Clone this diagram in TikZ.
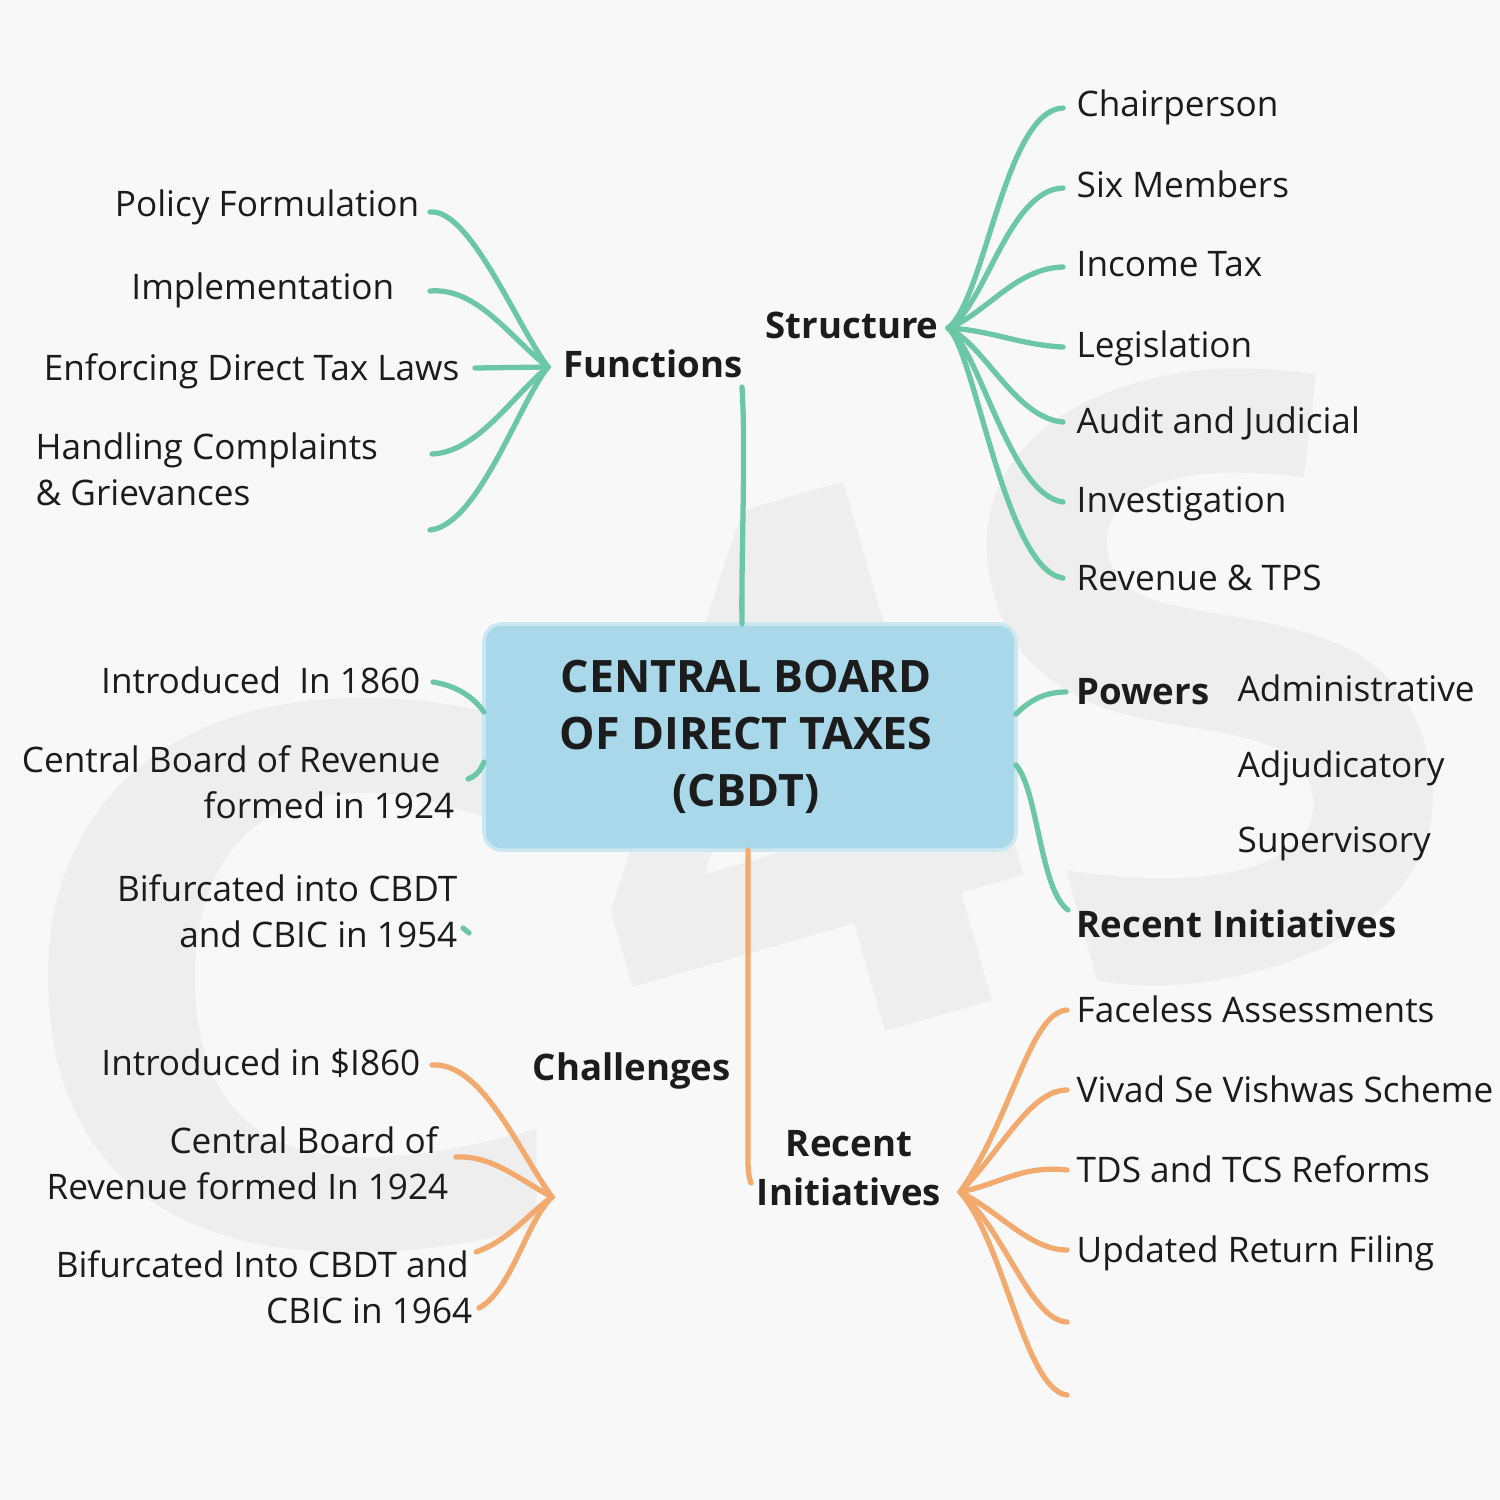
\documentclass[tikz,border=0pt]{standalone}
\usepackage{fontspec}
\setmainfont{Open Sans}
\usetikzlibrary{calc}
\definecolor{bgc}{HTML}{F8F8F8}
\definecolor{wmc}{HTML}{EEEEEE}
\definecolor{grn}{HTML}{6CC7A6}
\definecolor{org}{HTML}{F2AA6E}
\definecolor{boxc}{HTML}{A8D8EA}
\definecolor{ink}{HTML}{1C1C1C}
\tikzset{
  txt/.style={font=\fontsize{10}{13}\selectfont, text=ink, inner sep=0pt},
  lbl/.style={font=\fontsize{10.4}{14}\selectfont\bfseries, text=ink, inner sep=0pt},
  gl/.style={draw=grn, line width=1.5pt, line cap=round},
  ol/.style={draw=org, line width=1.5pt, line cap=round},
  wm/.style={text=wmc, inner sep=0pt, font=\fontsize{215}{215}\selectfont\bfseries}
}
\begin{document}
\begin{tikzpicture}[x=0.01cm, y=-0.01cm]
\fill[bgc] (0,0) rectangle (1500,1500);
\useasboundingbox (0,0) rectangle (1500,1500);
% watermark
\node[wm, xscale=1.25] (wmC) at (295,975) {C};
\node[wm, rotate=16] (wm4) at (785,780) {4};
\node[wm, rotate=16, scale=1.08] (wmS) at (1205,675) {S};

% central box
\draw[draw=boxc!60!white, line width=1pt, fill=boxc, rounded corners=5pt] (484,624) rectangle (1016,850);
\node[align=center, font=\fontsize{12.7}{16.2}\selectfont\bfseries, text=ink, inner sep=0pt] (box) at (746,737)
  {CENTRAL BOARD\\OF DIRECT TAXES\\(CBDT)};

% coordinates of box edges
\coordinate (boxT) at (742,624);
\coordinate (boxB) at (748,850);
\coordinate (boxL1) at (484,712);
\coordinate (boxL2) at (484,762);
\coordinate (boxR1) at (1016,714);
\coordinate (boxR2) at (1016,765);

% Functions
\node[lbl, anchor=base west] (fn) at (563,377) {Functions};
\coordinate (fhub) at (548,367);
\coordinate (fnb) at (742,387);
\node[txt, anchor=base east] (pf) at (420,217) {Policy Formulation};
\node[txt, anchor=base east] (impl) at (395,299) {Implementation};
\node[txt, anchor=base east] (enf) at (460,380) {Enforcing Direct Tax Laws};
\node[txt, anchor=base west, align=left] (hc) at (35,505) {Handling Complaints\\\& Grievances};
\coordinate (f1) at (430,212);
\coordinate (f2) at (430,291);
\coordinate (f3) at (475,368);
\coordinate (f4) at (432,454);
\coordinate (f5) at (430,530);
\draw[gl] (f1) .. controls (470,208) and (518,328) .. (fhub);
\draw[gl] (f2) .. controls (478,287) and (512,340) .. (fhub);
\draw[gl] (f3) -- (fhub);
\draw[gl] (f4) .. controls (478,452) and (512,396) .. (fhub);
\draw[gl] (f5) .. controls (478,525) and (518,405) .. (fhub);
\draw[gl] (fnb) .. controls (746,450) and (741,560) .. (boxT);

% Structure
\node[lbl, anchor=base west] (st) at (765,338) {Structure};
\coordinate (shub) at (948,328);
\node[txt, anchor=base west] (s1) at (1076,117) {Chairperson};
\node[txt, anchor=base west] (s2) at (1076,198) {Six Members};
\node[txt, anchor=base west] (s3) at (1076,277) {Income Tax};
\node[txt, anchor=base west] (s4) at (1076,357) {Legislation};
\node[txt, anchor=base west] (s5) at (1076,433) {Audit and Judicial};
\node[txt, anchor=base west] (s6) at (1076,512) {Investigation};
\node[txt, anchor=base west] (s7) at (1076,590) {Revenue \& TPS};
\coordinate (e1) at (1063,108);
\coordinate (e2) at (1063,188);
\coordinate (e3) at (1063,267);
\coordinate (e4) at (1063,347);
\coordinate (e5) at (1063,422);
\coordinate (e6) at (1063,502);
\coordinate (e7) at (1063,578);
\draw[gl] (shub) .. controls (985,300) and (1005,110) .. (e1);
\draw[gl] (shub) .. controls (985,308) and (1008,190) .. (e2);
\draw[gl] (shub) .. controls (985,315) and (1015,268) .. (e3);
\draw[gl] (shub) .. controls (990,330) and (1020,345) .. (e4);
\draw[gl] (shub) .. controls (985,345) and (1015,418) .. (e5);
\draw[gl] (shub) .. controls (980,350) and (1010,495) .. (e6);
\draw[gl] (shub) .. controls (975,350) and (1005,570) .. (e7);

% History (left of box)
\node[txt, anchor=base east] (h1) at (421,693) {Introduced\ \ In 1860};
\node[txt, anchor=base east, align=right] (h2) at (455,818) {Central Board of Revenue\kern4pt\\formed in 1924};
\node[txt, anchor=base east, align=right] (h3) at (458,947) {Bifurcated into CBDT\\and CBIC in 1954};
\coordinate (h1e) at (433,682);
\coordinate (h2e) at (468,779);
\coordinate (tk1) at (463,928);
\coordinate (tk2) at (469,933);
\draw[gl] (h1e) .. controls (458,686) and (474,698) .. (boxL1);
\draw[gl] (h2e) .. controls (476,776) and (481,770) .. (boxL2);
\draw[gl] (tk1) -- (tk2);

% Powers / Recent Initiatives (right of box)
\node[lbl, anchor=base west] (pw) at (1076,704) {Powers};
\node[txt, anchor=base west] (adm) at (1237,701) {Administrative};
\node[txt, anchor=base west] (adj) at (1237,777) {Adjudicatory};
\node[txt, anchor=base west] (sup) at (1237,852) {Supervisory};
\node[lbl, anchor=base west] (rig) at (1076,937) {Recent Initiatives};
\coordinate (pwe) at (1066,692);
\coordinate (rige) at (1068,910);
\draw[gl] (boxR1) .. controls (1030,700) and (1045,692) .. (pwe);
\draw[gl] (boxR2) .. controls (1038,790) and (1040,890) .. (rige);

% Challenges / Recent Initiatives (bottom)
\coordinate (ob) at (751,1183);
\draw[ol] (boxB) -- (748,1160) .. controls (748,1172) and (749,1178) .. (ob);
\node[lbl, anchor=base west] (chal) at (532,1080) {Challenges};
\node[lbl, align=center, font=\fontsize{10.4}{14}\selectfont\bfseries] (ri) at (849,1168) {Recent\\Initiatives};

\coordinate (chub) at (552,1197);
\node[txt, anchor=base east] (c1) at (421,1075) {Introduced in \$I860};
\node[txt, anchor=base east, align=right] (c2) at (449,1199) {Central Board of\kern3pt\\Revenue formed In 1924};
\node[txt, anchor=base east, align=right] (c3) at (473,1323) {Bifurcated Into CBDT and\kern1pt\\CBIC in 1964};
\coordinate (c1e) at (432,1065);
\coordinate (c2e) at (456,1157);
\coordinate (c3e) at (476,1252);
\coordinate (c4e) at (479,1308);
\draw[ol] (c1e) .. controls (482,1062) and (518,1150) .. (chub);
\draw[ol] (c2e) .. controls (492,1155) and (520,1180) .. (chub);
\draw[ol] (c3e) .. controls (510,1240) and (530,1212) .. (chub);
\draw[ol] (c4e) .. controls (512,1290) and (526,1222) .. (chub);

\coordinate (rhub) at (960,1192);
\node[txt, anchor=base west] (r1) at (1076,1022) {Faceless Assessments};
\node[txt, anchor=base west] (r2) at (1076,1102) {Vivad Se Vishwas Scheme};
\node[txt, anchor=base west] (r3) at (1076,1182) {TDS and TCS Reforms};
\node[txt, anchor=base west] (r4) at (1076,1262) {Updated Return Filing};
\coordinate (r1e) at (1067,1010);
\coordinate (r2e) at (1067,1090);
\coordinate (r3e) at (1067,1170);
\coordinate (r4e) at (1067,1250);
\coordinate (r5e) at (1067,1322);
\coordinate (r6e) at (1067,1395);
\draw[ol] (r1e) .. controls (1030,1012) and (1012,1118) .. (rhub);
\draw[ol] (r2e) .. controls (1030,1090) and (1002,1150) .. (rhub);
\draw[ol] (r3e) .. controls (1022,1165) and (1000,1184) .. (rhub);
\draw[ol] (r4e) .. controls (1030,1250) and (1000,1212) .. (rhub);
\draw[ol] (r5e) .. controls (1030,1320) and (1006,1232) .. (rhub);
\draw[ol] (r6e) .. controls (1025,1390) and (1004,1242) .. (rhub);
\end{tikzpicture}
\end{document}
